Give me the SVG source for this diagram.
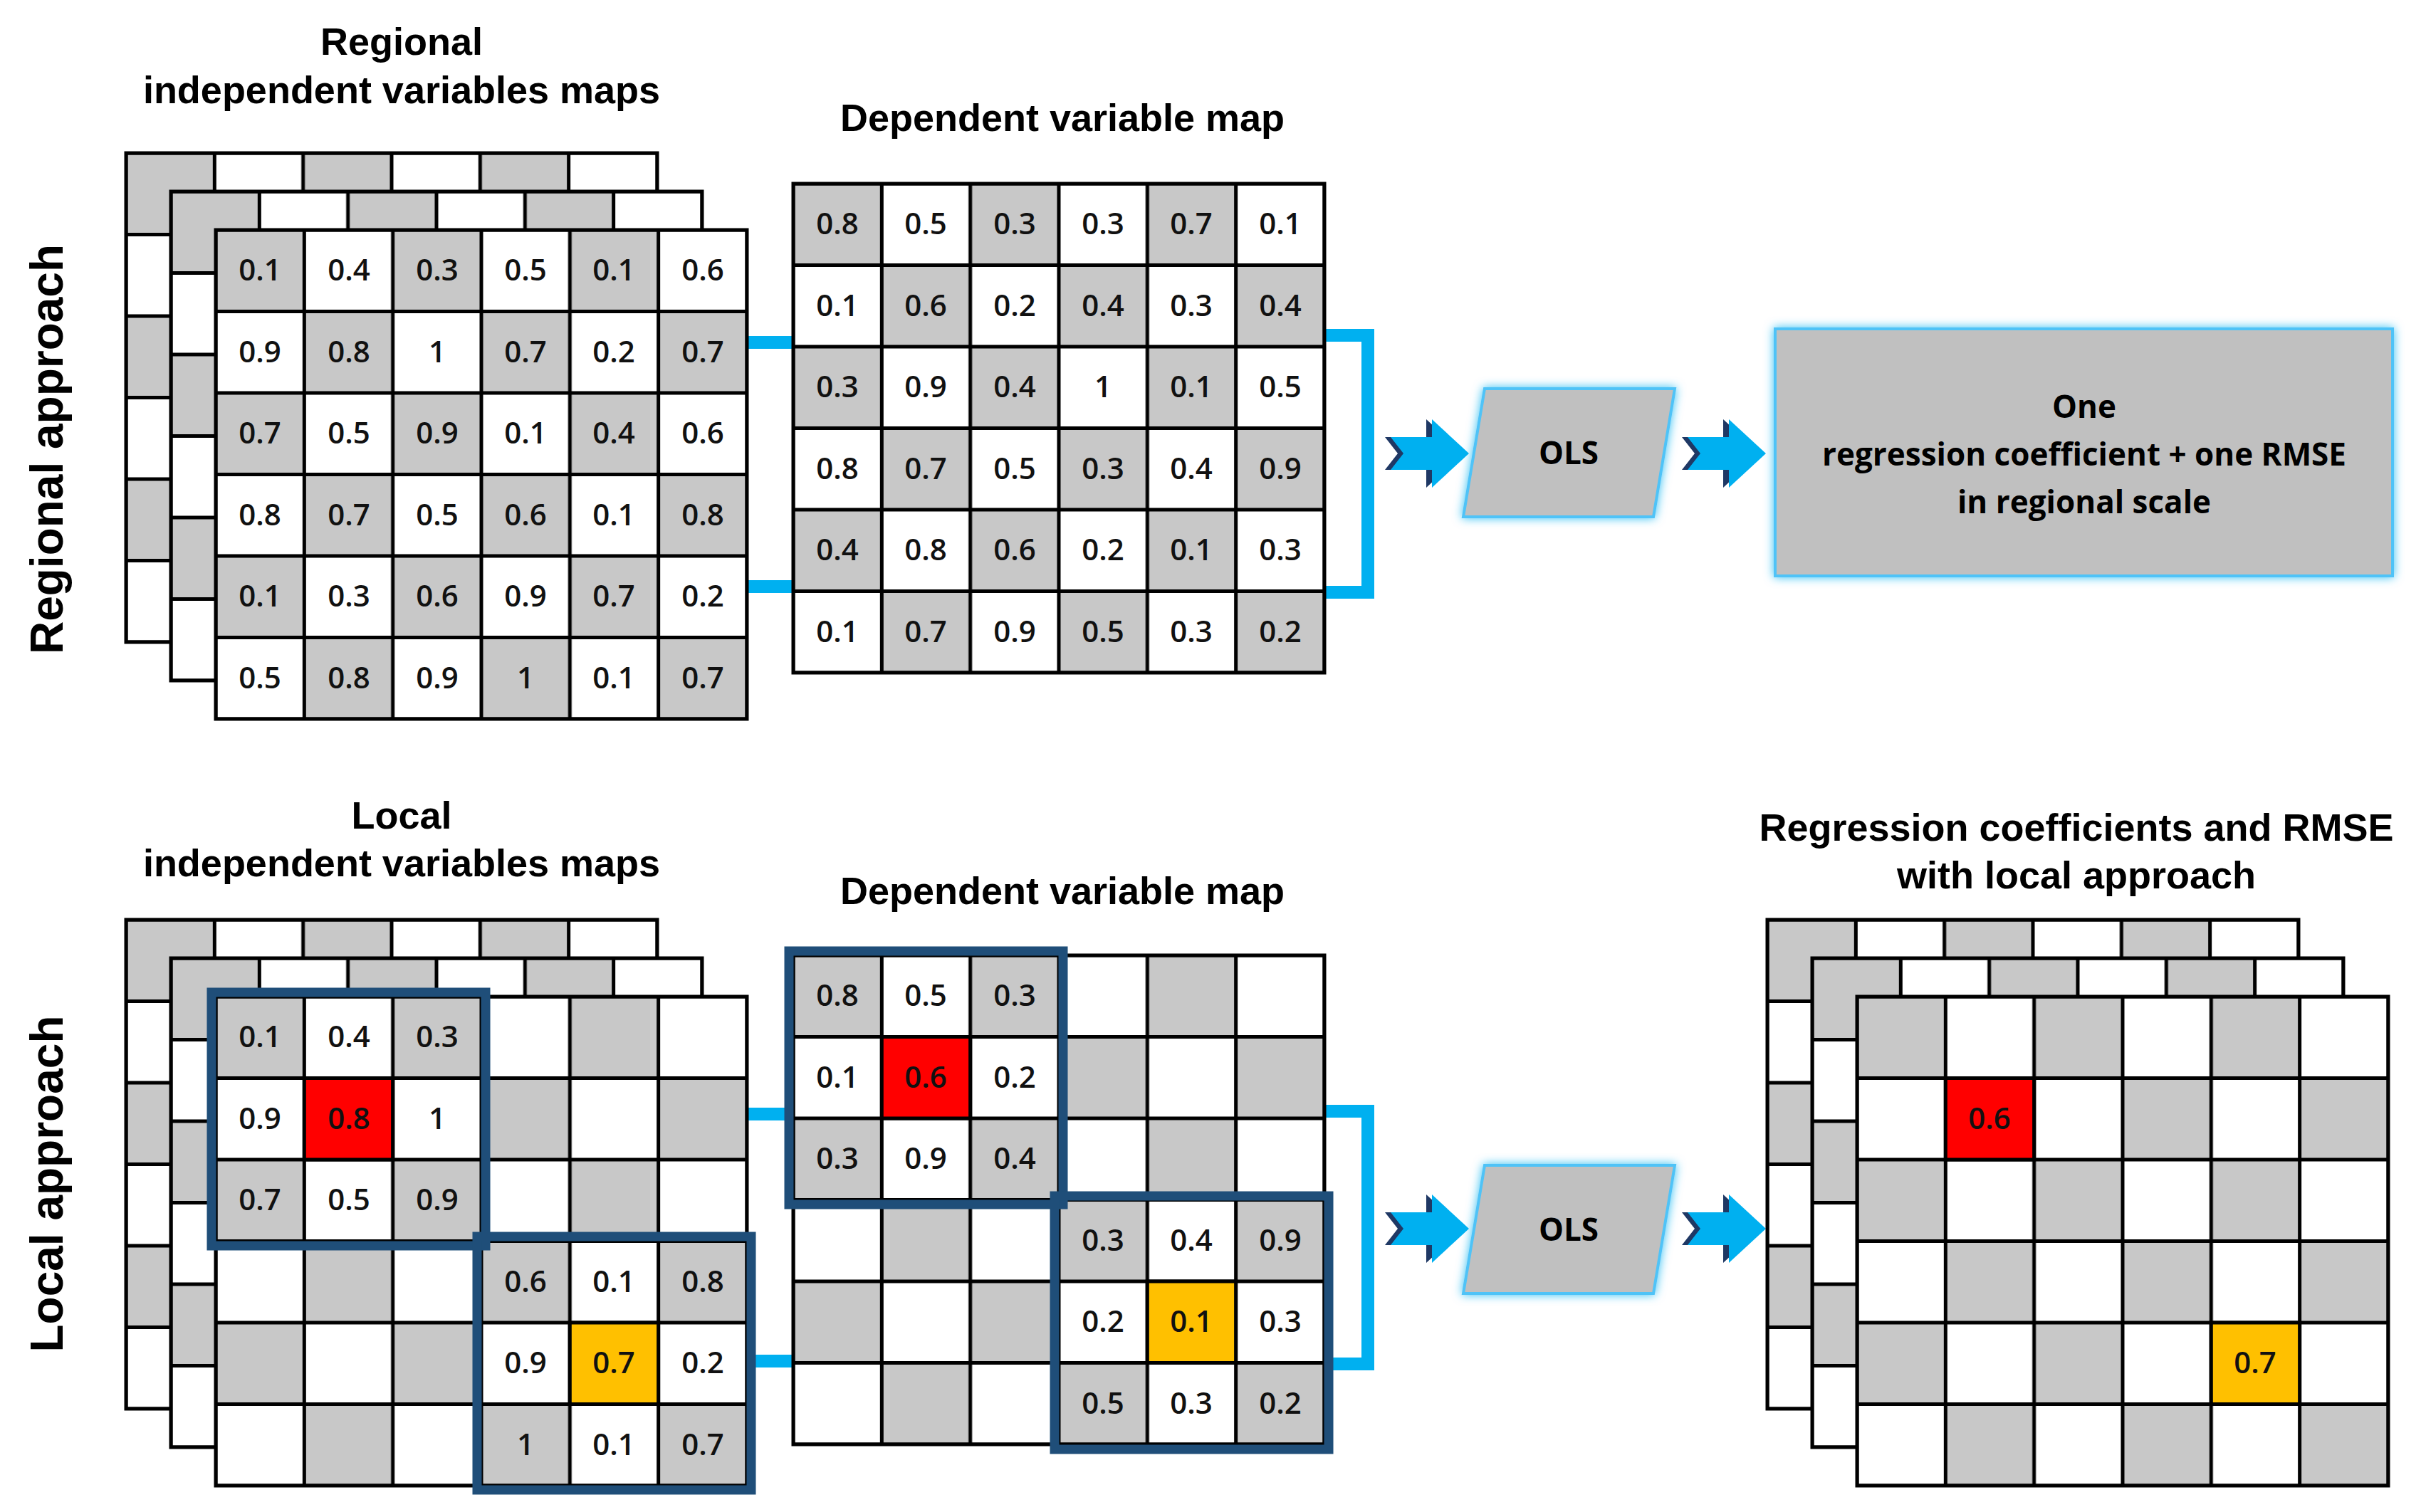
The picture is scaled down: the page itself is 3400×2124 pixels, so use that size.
<svg xmlns="http://www.w3.org/2000/svg" width="3400" height="2124" viewBox="0 0 3400 2124">
<style>
.t{font-family:"Liberation Sans",Arial,sans-serif;font-weight:bold;fill:#000;text-anchor:middle}
.ttl{font-size:54px}
.side{font-size:64px}
.n{font-family:"Open Sans","Liberation Sans",sans-serif;font-weight:600;font-size:42px;text-anchor:middle;fill:#111}
.grid{fill:url(#chk);stroke:#000;stroke-width:5}
.hl{fill:none;stroke:#1f4e79;stroke-width:13}
.bar{fill:#00b0f0}
.ch{fill:#00b0f0}
.chs{fill:#1f3864}
.cell{stroke:#000;stroke-width:5}
.box{fill:#c0c0c0;stroke:#4fc3f7;stroke-width:4;filter:url(#glow)}
.bt{font-family:"Open Sans","Liberation Sans",sans-serif;font-weight:700;font-size:44px;text-anchor:middle;fill:#000}
</style>
<defs>
<pattern id="chk" patternUnits="objectBoundingBox" x="0" y="0" width="0.33333" height="0.33333" patternContentUnits="userSpaceOnUse">
<rect x="0" y="0" width="124.33" height="114.5" fill="#c8c8c8" stroke="#000" stroke-width="5"/>
<rect x="124.33" y="0" width="124.33" height="114.5" fill="#fff" stroke="#000" stroke-width="5"/>
<rect x="0" y="114.5" width="124.33" height="114.5" fill="#fff" stroke="#000" stroke-width="5"/>
<rect x="124.33" y="114.5" width="124.33" height="114.5" fill="#c8c8c8" stroke="#000" stroke-width="5"/>
</pattern>
<filter id="glow" x="-10%" y="-10%" width="120%" height="120%">
<feDropShadow dx="0" dy="0" stdDeviation="7" flood-color="#00b0f0" flood-opacity="0.8"/>
</filter>
<g id="chev">
<polygon class="chs" points="-8,-23 50,-23 50,-48 102,0 50,48 50,23 -8,23 10,0"/>
<polygon class="ch" points="0,-23 58,-23 58,-48 110,0 58,48 58,23 0,23 18,0"/>
</g>
</defs>

<!-- Titles -->
<g id="titles">
<text class="t ttl" x="564" y="77">Regional</text>
<text class="t ttl" x="564" y="145">independent variables maps</text>
<text class="t ttl" x="1492" y="184">Dependent variable map</text>
<text class="t ttl" x="564" y="1164">Local</text>
<text class="t ttl" x="564" y="1231">independent variables maps</text>
<text class="t ttl" x="1492" y="1270">Dependent variable map</text>
<text class="t ttl" x="2916" y="1181">Regression coefficients and RMSE</text>
<text class="t ttl" x="2916" y="1248">with local approach</text>
<text class="t side" transform="translate(88,631) rotate(-90)">Regional approach</text>
<text class="t side" transform="translate(88,1663) rotate(-90)">Local approach</text>
</g>

<!-- Connectors -->
<g id="connectors">
<rect class="bar" x="1049" y="472" width="65" height="18"/>
<rect class="bar" x="1049" y="815" width="65" height="18"/>
<path d="M1862,471 H1921 V832 H1862" fill="none" stroke="#00b0f0" stroke-width="18"/>
<rect class="bar" x="1049" y="1556" width="65" height="18"/>
<rect class="bar" x="1049" y="1903" width="65" height="18"/>
<path d="M1862,1561 H1921 V1916 H1862" fill="none" stroke="#00b0f0" stroke-width="18"/>
<use href="#chev" x="1953" y="637"/>
<use href="#chev" x="2370" y="637"/>
<use href="#chev" x="1953" y="1726"/>
<use href="#chev" x="2370" y="1726"/>
</g>

<!-- Regional independent maps -->
<g id="regional-maps">
<rect class="grid" x="177" y="215" width="746" height="687"/>
<rect class="grid" x="240" y="269" width="746" height="687"/>
<rect class="grid" x="303" y="323" width="746" height="687"/>
<g class="n">
<text x="365" y="394">0.1</text><text x="490" y="394">0.4</text><text x="614" y="394">0.3</text><text x="738" y="394">0.5</text><text x="862" y="394">0.1</text><text x="987" y="394">0.6</text>
<text x="365" y="509">0.9</text><text x="490" y="509">0.8</text><text x="614" y="509">1</text><text x="738" y="509">0.7</text><text x="862" y="509">0.2</text><text x="987" y="509">0.7</text>
<text x="365" y="623">0.7</text><text x="490" y="623">0.5</text><text x="614" y="623">0.9</text><text x="738" y="623">0.1</text><text x="862" y="623">0.4</text><text x="987" y="623">0.6</text>
<text x="365" y="738">0.8</text><text x="490" y="738">0.7</text><text x="614" y="738">0.5</text><text x="738" y="738">0.6</text><text x="862" y="738">0.1</text><text x="987" y="738">0.8</text>
<text x="365" y="852">0.1</text><text x="490" y="852">0.3</text><text x="614" y="852">0.6</text><text x="738" y="852">0.9</text><text x="862" y="852">0.7</text><text x="987" y="852">0.2</text>
<text x="365" y="967">0.5</text><text x="490" y="967">0.8</text><text x="614" y="967">0.9</text><text x="738" y="967">1</text><text x="862" y="967">0.1</text><text x="987" y="967">0.7</text>
</g>
</g>

<!-- Regional dependent map -->
<g id="regional-dep">
<rect class="grid" x="1114" y="258" width="746" height="687"/>
<g class="n">
<text x="1176" y="329">0.8</text><text x="1300" y="329">0.5</text><text x="1425" y="329">0.3</text><text x="1549" y="329">0.3</text><text x="1673" y="329">0.7</text><text x="1798" y="329">0.1</text>
<text x="1176" y="444">0.1</text><text x="1300" y="444">0.6</text><text x="1425" y="444">0.2</text><text x="1549" y="444">0.4</text><text x="1673" y="444">0.3</text><text x="1798" y="444">0.4</text>
<text x="1176" y="558">0.3</text><text x="1300" y="558">0.9</text><text x="1425" y="558">0.4</text><text x="1549" y="558">1</text><text x="1673" y="558">0.1</text><text x="1798" y="558">0.5</text>
<text x="1176" y="673">0.8</text><text x="1300" y="673">0.7</text><text x="1425" y="673">0.5</text><text x="1549" y="673">0.3</text><text x="1673" y="673">0.4</text><text x="1798" y="673">0.9</text>
<text x="1176" y="787">0.4</text><text x="1300" y="787">0.8</text><text x="1425" y="787">0.6</text><text x="1549" y="787">0.2</text><text x="1673" y="787">0.1</text><text x="1798" y="787">0.3</text>
<text x="1176" y="902">0.1</text><text x="1300" y="902">0.7</text><text x="1425" y="902">0.9</text><text x="1549" y="902">0.5</text><text x="1673" y="902">0.3</text><text x="1798" y="902">0.2</text>
</g>
</g>

<!-- OLS regional -->
<g id="ols-regional">
<polygon class="box" points="2085,546 2352,546 2322,726 2055,726"/>
<text class="bt" x="2203" y="652">OLS</text>
</g>

<!-- Result regional -->
<g id="result-regional">
<rect class="box" x="2493" y="462" width="867" height="347"/>
<text class="bt" x="2927" y="587">One</text>
<text class="bt" x="2927" y="654">regression coefficient + one RMSE</text>
<text class="bt" x="2927" y="721">in regional scale</text>
</g>

<!-- Local independent maps -->
<g id="local-maps">
<rect class="grid" x="177" y="1292" width="746" height="687"/>
<rect class="grid" x="240" y="1346" width="746" height="687"/>
<rect class="grid" x="303" y="1400" width="746" height="687"/>
<rect class="cell" x="427.3" y="1514.5" width="124.33" height="114.5" fill="#ff0000"/>
<rect class="cell" x="800.3" y="1858" width="124.33" height="114.5" fill="#ffc000"/>
<g class="n">
<text x="365" y="1471">0.1</text><text x="490" y="1471">0.4</text><text x="614" y="1471">0.3</text>
<text x="365" y="1586">0.9</text><text x="490" y="1586">0.8</text><text x="614" y="1586">1</text>
<text x="365" y="1700">0.7</text><text x="490" y="1700">0.5</text><text x="614" y="1700">0.9</text>
<text x="738" y="1815">0.6</text><text x="862" y="1815">0.1</text><text x="987" y="1815">0.8</text>
<text x="738" y="1929">0.9</text><text x="862" y="1929">0.7</text><text x="987" y="1929">0.2</text>
<text x="738" y="2044">1</text><text x="862" y="2044">0.1</text><text x="987" y="2044">0.7</text>
</g>
<rect class="hl" x="297" y="1394" width="385" height="356"/>
<rect class="hl" x="670" y="1737" width="385" height="356"/>
</g>

<!-- Local dependent map -->
<g id="local-dep">
<rect class="grid" x="1114" y="1342" width="746" height="687"/>
<rect class="cell" x="1238.3" y="1456.5" width="124.33" height="114.5" fill="#ff0000"/>
<rect class="cell" x="1611.3" y="1800" width="124.33" height="114.5" fill="#ffc000"/>
<g class="n">
<text x="1176" y="1413">0.8</text><text x="1300" y="1413">0.5</text><text x="1425" y="1413">0.3</text>
<text x="1176" y="1528">0.1</text><text x="1300" y="1528">0.6</text><text x="1425" y="1528">0.2</text>
<text x="1176" y="1642">0.3</text><text x="1300" y="1642">0.9</text><text x="1425" y="1642">0.4</text>
<text x="1549" y="1757">0.3</text><text x="1673" y="1757">0.4</text><text x="1798" y="1757">0.9</text>
<text x="1549" y="1871">0.2</text><text x="1673" y="1871">0.1</text><text x="1798" y="1871">0.3</text>
<text x="1549" y="1986">0.5</text><text x="1673" y="1986">0.3</text><text x="1798" y="1986">0.2</text>
</g>
<rect class="hl" x="1108" y="1336" width="385" height="356"/>
<rect class="hl" x="1481" y="1680" width="385" height="356"/>
</g>

<!-- OLS local -->
<g id="ols-local">
<polygon class="box" points="2085,1637 2352,1637 2322,1817 2055,1817"/>
<text class="bt" x="2203" y="1743">OLS</text>
</g>

<!-- Local result maps -->
<g id="result-local">
<rect class="grid" x="2482" y="1292" width="746" height="687"/>
<rect class="grid" x="2545" y="1346" width="746" height="687"/>
<rect class="grid" x="2608" y="1400" width="746" height="687"/>
<rect class="cell" x="2732.3" y="1514.5" width="124.33" height="114.5" fill="#ff0000"/>
<rect class="cell" x="3105.3" y="1858" width="124.33" height="114.5" fill="#ffc000"/>
<text class="n" x="2794" y="1586">0.6</text>
<text class="n" x="3167" y="1929">0.7</text>
</g>
</svg>
